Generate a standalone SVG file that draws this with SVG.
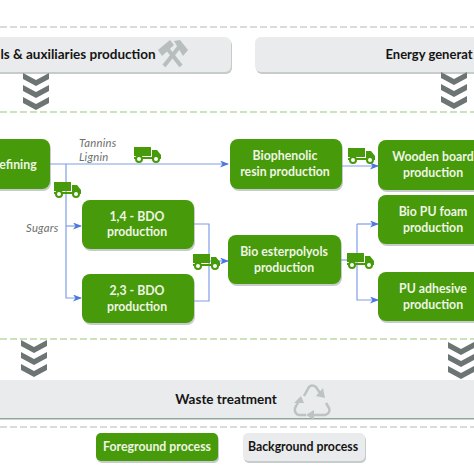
<svg xmlns="http://www.w3.org/2000/svg" width="474" height="474" viewBox="0 0 474 474">
<style>
.g{fill:#479a0a}
.b{fill:#e9ebec}
.sh{fill:#7e8f8b;opacity:.45}
.t{font-family:"Lato","Liberation Sans",sans-serif;font-weight:700;font-size:12.3px;text-anchor:middle}
.big{font-size:13.5px}
.w{fill:#eef5e4}
.k{fill:#151515}
.i{font-family:"Lato","Liberation Sans",sans-serif;font-style:italic;font-size:11.3px;letter-spacing:.25px;fill:#6d716d}
.c{fill:none;stroke:#7f9fe6;stroke-width:1.2}
.dg{stroke:#b4b9b7;stroke-width:1.2;stroke-dasharray:7 3;fill:none}
.dl{stroke:#bcd9a6;stroke-width:1.5;stroke-dasharray:7 3;fill:none}
.ch{fill:#6c7573}
.tr{fill:#479a0a}
.ic{fill:#b7bebc}
.ham{fill:none;stroke:#b7bebc}
.rec{fill:none;stroke:#bcc3c1;stroke-width:2.5}
.reca{fill:#bcc3c1}
</style>
<defs>
<marker id="a" markerWidth="9" markerHeight="7" refX="8" refY="3.5" orient="auto" markerUnits="userSpaceOnUse"><path d="M0 0L9 3.5L0 7L2.5 3.5Z" fill="#4a78e0"/></marker>
<g id="truck">
<path class="tr" d="M0 0H17V9H0ZM18 3H23L27 8V12H18Z"/>
<rect class="tr" x="0" y="10" width="18" height="2"/>
<circle cx="5" cy="12" r="3" fill="#fff" stroke="#479a0a" stroke-width="2"/>
<circle cx="22" cy="12" r="3" fill="#fff" stroke="#479a0a" stroke-width="2"/>
</g>
<g id="chev" class="ch"><path d="M-13 0L0 7L13 0V6L0 13L-13 6Z"/><path d="M-13 12L0 19L13 12V18L0 25L-13 18Z"/><path d="M-13 24L0 31L13 24V30L0 37L-13 30Z"/></g>
</defs>
<rect width="474" height="474" fill="#fff"/>
<g id="separators">
<path class="dg" d="M0 27H474"/><path class="dl" d="M0 112H474"/><path class="dl" d="M0 339H474"/><path class="dg" d="M0 427H474"/>
</g>
<g id="chevrons">
<use href="#chev" x="36" y="73"/><use href="#chev" x="454" y="72"/><use href="#chev" x="34" y="340"/><use href="#chev" x="461" y="342"/>
</g>
<g id="connectors">
<path class="c" d="M50 164H228" marker-end="url(#a)"/>
<path class="c" d="M66 164V298H81" marker-end="url(#a)"/>
<path class="c" d="M66 226H81" marker-end="url(#a)"/>
<path class="c" d="M194 224H209V301H194"/>
<path class="c" d="M209 261H228" marker-end="url(#a)"/>
<path class="c" d="M342 166H378" marker-end="url(#a)"/>
<path class="c" d="M341 260H357"/>
<path class="c" d="M357 224V300H378" marker-end="url(#a)"/>
<path class="c" d="M357 224H378" marker-end="url(#a)"/>
</g>
<g id="trucks">
<use href="#truck" x="134" y="147"/><use href="#truck" x="54" y="182"/><use href="#truck" x="193" y="254"/><use href="#truck" x="348" y="148"/><use href="#truck" x="347" y="253"/>
</g>
<g id="materials"><rect class="sh" x="-10" y="39" width="242" height="35" rx="6"/><rect class="b" x="-10" y="37" width="241" height="35" rx="6"/><text class="t k big" x="78" y="59">ls &amp; auxiliaries production</text>
<g><path class="ham" stroke-width="4" d="M181 66L166 47"/><path class="ham" stroke-width="4" d="M164 66L179 47"/><path class="ic" d="M158 50L170 40L174 45L162 56Z"/><path class="ic" d="M174 41L180 40L188 50L183 56Z"/></g></g>
<g id="energy"><rect class="sh" x="256" y="39" width="230" height="35" rx="6"/><rect class="b" x="255" y="37" width="230" height="35" rx="6"/><text class="t k" style="font-size:13px" x="429" y="59">Energy generat</text></g>
<g id="refining"><rect class="sh" x="-20" y="141" width="71" height="50" rx="8"/><rect class="g" x="-20" y="139" width="70" height="50" rx="8"/><text class="t w" x="18" y="169">efining</text></g>
<g id="bdo14"><rect class="sh" x="83" y="202" width="112" height="49" rx="8"/><rect class="g" x="82" y="200" width="112" height="49" rx="8"/><text class="t w" x="137" y="221">1,4 - BDO</text><text class="t w" x="137" y="236">production</text></g>
<g id="bdo23"><rect class="sh" x="83" y="276" width="112" height="49" rx="8"/><rect class="g" x="82" y="274" width="112" height="49" rx="8"/><text class="t w" x="137" y="295">2,3 - BDO</text><text class="t w" x="137" y="311">production</text></g>
<g id="biophenolic"><rect class="sh" x="231" y="141" width="112" height="50" rx="8"/><rect class="g" x="230" y="139" width="112" height="50" rx="8"/><text class="t w" x="285" y="160">Biophenolic</text><text class="t w" x="285" y="176">resin production</text></g>
<g id="esterpolyols"><rect class="sh" x="229" y="237" width="113" height="49" rx="8"/><rect class="g" x="228" y="235" width="113" height="49" rx="8"/><text class="t w" x="284" y="256">Bio esterpolyols</text><text class="t w" x="284" y="272">production</text></g>
<g id="wooden"><rect class="sh" x="379" y="142" width="110" height="50" rx="8"/><rect class="g" x="378" y="140" width="110" height="50" rx="8"/><text class="t w" x="433" y="161">Wooden board</text><text class="t w" x="433" y="177">production</text></g>
<g id="foam"><rect class="sh" x="379" y="197" width="110" height="49" rx="8"/><rect class="g" x="378" y="195" width="110" height="49" rx="8"/><text class="t w" x="433" y="216">Bio PU foam</text><text class="t w" x="433" y="232">production</text></g>
<g id="adhesive"><rect class="sh" x="379" y="274" width="110" height="49" rx="8"/><rect class="g" x="378" y="272" width="110" height="49" rx="8"/><text class="t w" x="433" y="293">PU adhesive</text><text class="t w" x="433" y="309">production</text></g>
<g id="waste"><rect x="0" y="380" width="474" height="38" fill="#e9ebec"/><rect x="0" y="418" width="474" height="1.5" fill="#93a5a0"/><text class="t k big" x="226" y="404">Waste treatment</text>
<g><path class="rec" d="M304 396L309 387Q312 384 316 387L320 393"/><path class="reca" d="M316 396L325 398L323 388Z"/><path class="rec" d="M300 399L295 408Q294 414 299 415H306"/><path class="reca" d="M294 403L304 403L301 396Z"/><path class="rec" d="M314 415H325Q331 413 329 408L326 403"/><path class="reca" d="M314 410V420L306 415Z"/></g></g>
<g id="legend-foreground"><rect class="sh" x="97" y="435" width="122" height="28" rx="5"/><rect class="g" x="96" y="433" width="122" height="28" rx="5"/><text class="t w" x="157" y="451">Foreground process</text></g>
<g id="legend-background"><rect class="sh" x="244" y="435" width="122" height="28" rx="5"/><rect class="b" x="243" y="433" width="122" height="28" rx="5"/><text class="t k" x="303" y="451">Background process</text></g>
<g id="labels">
<text class="i" x="79" y="147">Tannins</text><text class="i" x="79" y="160.6">Lignin</text><text class="i" x="26" y="232">Sugars</text>
</g>
</svg>
